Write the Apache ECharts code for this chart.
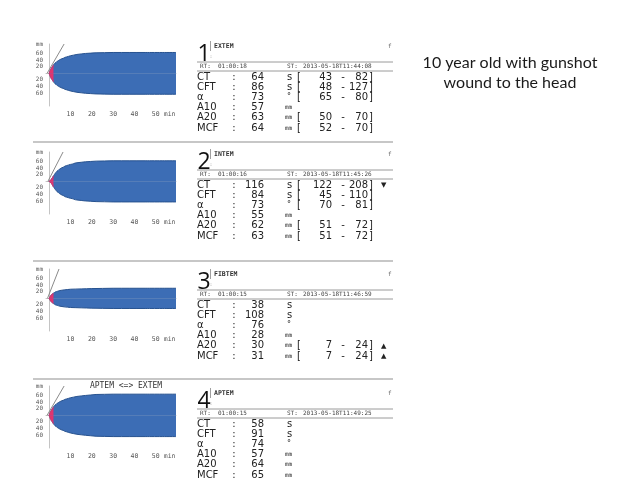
<!DOCTYPE html>
<html><head><meta charset="utf-8">
<script src="https://cdn.jsdelivr.net/npm/echarts@6/dist/echarts.min.js"></script>
<style>html,body{margin:0;padding:0;background:#fff}#c{width:638px;height:478px}</style>
</head><body><div id="c"></div>
<script>
// ---------- data ----------
const testNames = ['EXTEM', 'INTEM', 'FIBTEM', 'APTEM'];
const panelNumbers = ['1', '2', '3', '4'];
const runTimes = ['01:00:18', '01:00:16', '01:00:15', '01:00:15'];
const startTimes = ['2013-05-18T11:44:08', '2013-05-18T11:45:26', '2013-05-18T11:46:59', '2013-05-18T11:49:25'];
const paramNames = ['CT', 'CFT', 'α', 'A10', 'A20', 'MCF'];
const paramUnits = ['s', 's', '°', 'mm', 'mm', 'mm'];

const extemValues = [64, 86, 73, 57, 63, 64];
const extemLow    = [43, 48, 65, null, 50, 52];
const extemHigh   = [82, 127, 80, null, 70, 70];
const extemFlags  = ['', '', '', '', '', ''];

const intemValues = [116, 84, 73, 55, 62, 63];
const intemLow    = [122, 45, 70, null, 51, 51];
const intemHigh   = [208, 110, 81, null, 72, 72];
const intemFlags  = ['▼', '', '', '', '', ''];

const fibtemValues = [38, 108, 76, 28, 30, 31];
const fibtemLow    = [null, null, null, null, 7, 7];
const fibtemHigh   = [null, null, null, null, 24, 24];
const fibtemFlags  = ['', '', '', '', '▲', '▲'];

const aptemValues = [58, 91, 74, 57, 64, 65];
const aptemLow    = [null, null, null, null, null, null];
const aptemHigh   = [null, null, null, null, null, null];
const aptemFlags  = ['', '', '', '', '', ''];

const timeTickValues = [10, 20, 30, 40, 50];
const timeUnitLabel = 'min';
const ampTickValues = [60, 40, 20, -20, -40, -60];
const ampUnitLabel = 'mm';

// temogram amplitude (mm, each side) vs time (min)
const extemTime = [0, 0.3, 0.7, 1.2, 2, 3, 4, 5, 6, 8, 10, 13, 17, 22, 30, 45, 59.5];
const extemAmp  = [0, 6, 12, 18, 26, 33, 38, 42, 45, 50, 54, 58, 61, 63, 64, 64, 64];
const extemPinkCount = 5;
const extemTangentTime = [-1, 7];
const extemTangentAmp  = [0, 90];

const intemTime = [0, 0.5, 1, 1.5, 2, 3, 4, 5, 6, 8, 10, 13, 17, 22, 30, 45, 59.5];
const intemAmp  = [0, 3, 6, 11, 17, 26, 33, 38, 42, 48, 52, 57, 60, 62, 63, 63, 63];
const intemPinkCount = 5;
const intemTangentTime = [-0.6, 6.5];
const intemTangentAmp  = [0, 90];

const fibtemTime = [0, 0.3, 0.7, 1.2, 2, 3, 4, 5, 7, 10, 15, 20, 30, 45, 59.5];
const fibtemAmp  = [0, 4, 8, 12, 16, 20, 22, 24, 26, 28, 29, 30, 31, 31, 31];
const fibtemPinkCount = 5;
const fibtemTangentTime = [-0.8, 4.6];
const fibtemTangentAmp  = [0, 90];

const aptemTime = [0, 0.3, 0.7, 1.2, 2, 3, 4, 5, 6, 8, 10, 13, 17, 22, 30, 45, 59.5];
const aptemAmp  = [0, 6, 12, 18, 26, 33, 38, 42, 45, 50, 54, 58, 61, 64, 65, 65, 65];
const aptemPinkCount = 5;
const aptemTangentTime = [-1, 7];
const aptemTangentAmp  = [0, 90];

const panel4Note = 'APTEM <=> EXTEM';
const slideTitle = ['10 year old with gunshot', 'wound to the head'];

// ---------- layout ----------
const chartTop = [44, 152, 269, 386];
const rowTop = [77, 185, 305, 424];
const separatorY = [null, 142, 261, 379];
const rowGap = 10.2;

const panels = [
  {time: extemTime, amp: extemAmp, pink: extemPinkCount, tt: extemTangentTime, ta: extemTangentAmp,
   values: extemValues, low: extemLow, high: extemHigh, flags: extemFlags},
  {time: intemTime, amp: intemAmp, pink: intemPinkCount, tt: intemTangentTime, ta: intemTangentAmp,
   values: intemValues, low: intemLow, high: intemHigh, flags: intemFlags},
  {time: fibtemTime, amp: fibtemAmp, pink: fibtemPinkCount, tt: fibtemTangentTime, ta: fibtemTangentAmp,
   values: fibtemValues, low: fibtemLow, high: fibtemHigh, flags: fibtemFlags},
  {time: aptemTime, amp: aptemAmp, pink: aptemPinkCount, tt: aptemTangentTime, ta: aptemTangentAmp,
   values: aptemValues, low: aptemLow, high: aptemHigh, flags: aptemFlags}
];

const BLUE = '#3c6db5', BLUE_EDGE = '#27528f', PINK = '#e0346f';
const MONO = 'DejaVu Sans Mono', SANS = 'DejaVu Sans';

const grids = [], xAxes = [], yAxes = [], series = [], graphics = [];

panels.forEach((p, i) => {
  grids.push({left: 46, width: 130, top: chartTop[i], height: 62});
  xAxes.push({
    type: 'value', gridIndex: i, min: -1.5, max: 59.5,
    axisLine: {show: true, lineStyle: {color: '#c4c4c4', width: 1}},
    axisTick: {show: false}, splitLine: {show: false},
    axisLabel: {
      customValues: timeTickValues.concat([56.5]),
      formatter: v => (v === 56.5 ? timeUnitLabel : String(v)),
      fontFamily: MONO, fontSize: 6.5, color: '#555', margin: 5
    }
  });
  yAxes.push({
    type: 'value', gridIndex: i, min: -100, max: 90,
    axisLine: {show: true, lineStyle: {color: '#c4c4c4', width: 1}},
    axisTick: {show: false}, splitLine: {show: false},
    axisLabel: {
      customValues: [90].concat(ampTickValues),
      formatter: v => (v === 90 ? ampUnitLabel : String(Math.abs(v))),
      fontFamily: MONO, fontSize: 6, color: '#555', margin: 3
    }
  });
  const up = p.time.map((t, k) => [t, p.amp[k]]);
  const dn = p.time.map((t, k) => [t, -p.amp[k]]);
  const base = {type: 'line', xAxisIndex: i, yAxisIndex: i, showSymbol: false, symbol: 'none',
    smooth: 0.35, smoothMonotone: 'x', silent: true, animation: false};
  series.push(Object.assign({}, base, {data: up, lineStyle: {color: BLUE_EDGE, width: 1}, areaStyle: {color: BLUE, opacity: 1}, z: 2}));
  series.push(Object.assign({}, base, {data: dn, lineStyle: {color: BLUE_EDGE, width: 1}, areaStyle: {color: BLUE, opacity: 1}, z: 2}));
  series.push(Object.assign({}, base, {data: up.slice(0, p.pink), lineStyle: {color: PINK, width: 1}, areaStyle: {color: PINK, opacity: 1}, z: 3}));
  series.push(Object.assign({}, base, {data: dn.slice(0, p.pink), lineStyle: {color: PINK, width: 1}, areaStyle: {color: PINK, opacity: 1}, z: 3}));
  series.push(Object.assign({}, base, {smooth: false, data: p.tt.map((t, k) => [t, p.ta[k]]), lineStyle: {color: '#8a8a8a', width: 1}, z: 4}));

  if (separatorY[i] !== null) {
    graphics.push({type: 'line', shape: {x1: 33, y1: separatorY[i], x2: 393, y2: separatorY[i]},
      style: {stroke: '#b5b5b5', lineWidth: 1.5}});
  }
  const r0 = rowTop[i];
  graphics.push({type: 'text', x: 204, y: r0 - 23, style: {text: panelNumbers[i], font: '23px "Open Sans"', fill: '#111', textAlign: 'center', textVerticalAlign: 'middle'}});
  graphics.push({type: 'line', shape: {x1: 210.5, y1: r0 - 36, x2: 210.5, y2: r0 - 26}, style: {stroke: '#888', lineWidth: 0.8}});
  graphics.push({type: 'text', x: 211, y: r0 - 20, style: {text: ':', font: '5px "' + MONO + '"', fill: '#999', textAlign: 'center', textVerticalAlign: 'middle'}});
  graphics.push({type: 'text', x: 214, y: r0 - 31, style: {text: testNames[i], font: 'bold 6.5px "' + MONO + '"', fill: '#333', textVerticalAlign: 'middle'}});
  graphics.push({type: 'text', x: 388, y: r0 - 31, style: {text: 'f', font: '6px "' + MONO + '"', fill: '#666', textVerticalAlign: 'middle'}});
  graphics.push({type: 'line', shape: {x1: 197, y1: r0 - 15, x2: 393, y2: r0 - 15}, style: {stroke: '#9a9a9a', lineWidth: 1}});
  const small = (x, s) => graphics.push({type: 'text', x: x, y: r0 - 10.5, style: {text: s, font: '6px "' + MONO + '"', fill: '#444', textVerticalAlign: 'middle'}});
  small(200, 'RT:'); small(218, runTimes[i]); small(287, 'ST:'); small(303, startTimes[i]);
  graphics.push({type: 'line', shape: {x1: 197, y1: r0 - 6, x2: 393, y2: r0 - 6}, style: {stroke: '#9a9a9a', lineWidth: 1}});
  paramNames.forEach((name, k) => {
    const y = r0 + k * rowGap;
    const txt = (x, s, align, font) => graphics.push({type: 'text', x: x, y: y,
      style: {text: s, font: font || ('10px "' + SANS + '"'), fill: '#222', textAlign: align || 'left', textVerticalAlign: 'middle'}});
    txt(197, name);
    txt(234, ':', 'center');
    txt(264, String(p.values[k]), 'right');
    const u = paramUnits[k];
    if (u === 'mm') txt(285, u, 'left', '6px "' + MONO + '"');
    else if (u === '°') txt(287, u, 'left', '8px "' + SANS + '"');
    else txt(287, u, 'left');
    if (p.low[k] !== null) {
      txt(297, '[', 'left');
      txt(332, String(p.low[k]), 'right');
      txt(343, '-', 'center');
      txt(368, String(p.high[k]), 'right');
      txt(369, ']', 'left');
    }
    if (p.flags[k]) txt(381, p.flags[k], 'left', '7px "' + SANS + '"');
  });
});

graphics.push({type: 'text', x: 126, y: 386, style: {text: panel4Note, font: '8px "' + MONO + '"', fill: '#333', textAlign: 'center', textVerticalAlign: 'middle'}});
slideTitle.forEach((s, k) => graphics.push({type: 'text', x: 510, y: 63 + k * 20,
  style: {text: s, font: '16px Lato', fill: '#1a1a1a', textAlign: 'center', textVerticalAlign: 'middle'}}));

const chart = echarts.init(document.getElementById('c'), null, {renderer: 'canvas'});
chart.setOption({
  backgroundColor: '#fff',
  animation: false,
  grid: grids, xAxis: xAxes, yAxis: yAxes, series: series,
  graphic: graphics.map(g => Object.assign({silent: true}, g))
});
</script></body></html>
